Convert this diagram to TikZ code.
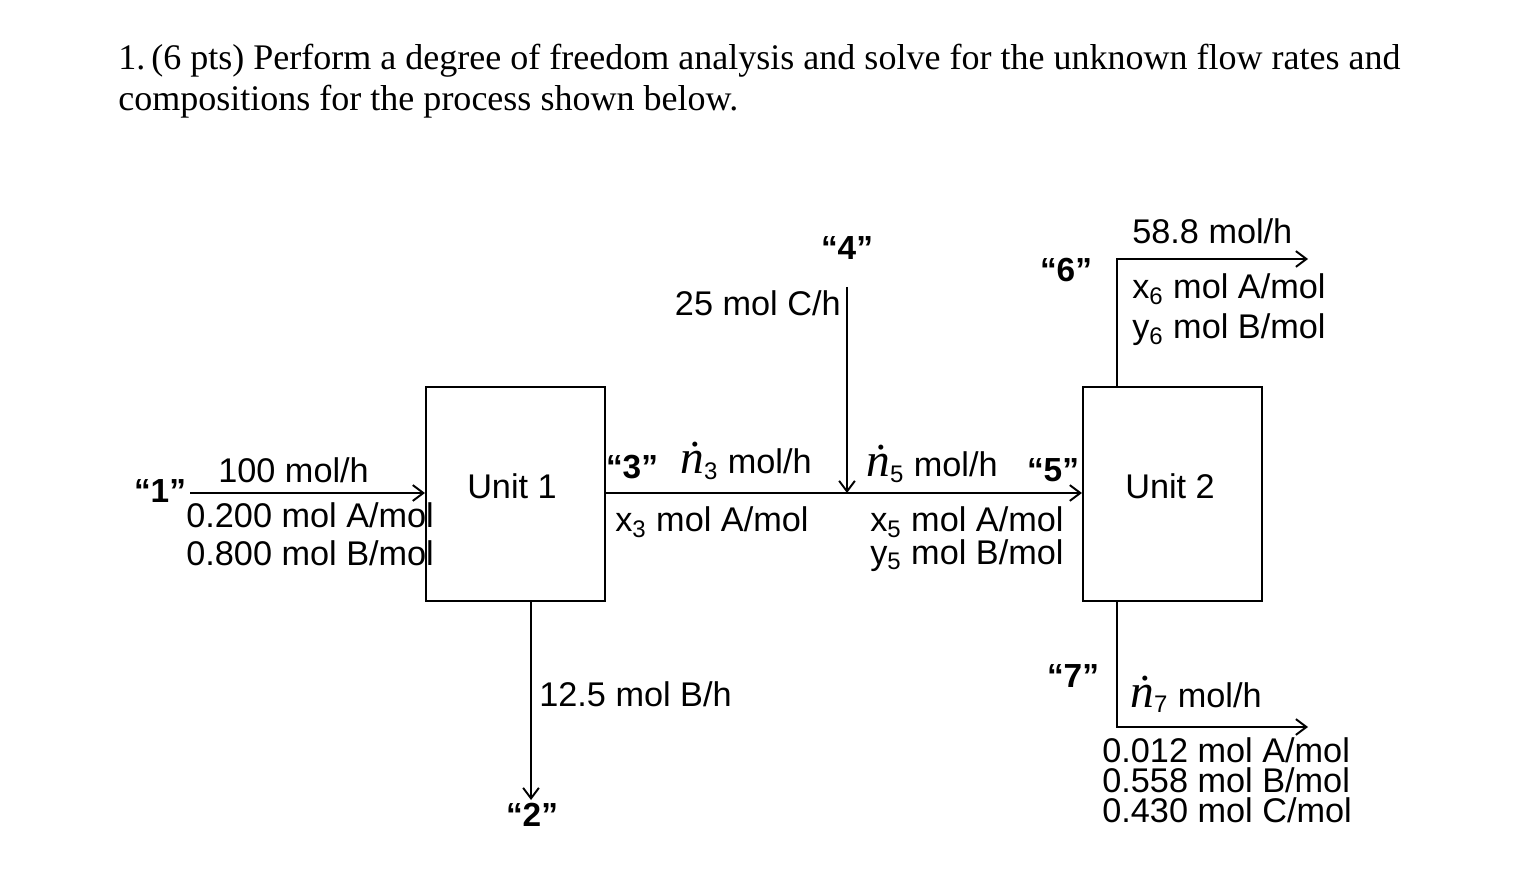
\documentclass[tikz,border=0pt]{standalone}
\usepackage{fontspec}
\usetikzlibrary{arrows.meta}
\setmainfont{Liberation Serif}
\setsansfont{Liberation Sans}
\newcommand{\ndot}{{\rmfamily\itshape\fontsize{27}{27}\selectfont ṅ}}
\begin{document}
\begin{tikzpicture}[x=0.02cm,y=-0.02cm,
  lab/.style={font=\sffamily\fontsize{19.5}{21}\selectfont,inner sep=0pt},
  q/.style={font=\sffamily\bfseries\fontsize{19}{21}\selectfont,inner sep=0pt},
  unit/.style={draw,line width=1.2pt,minimum width=179*0.02cm,minimum height=214*0.02cm},
  flow/.style={line width=1.1pt,-{Straight Barb[length=6pt,width=9pt]}}]
\useasboundingbox (0,0) rectangle (1524,884);
\node[anchor=base west,inner sep=0pt,font=\fontsize{20.5}{24}\selectfont] (t1) at (118,70) {1.\,(6 pts) Perform a degree of freedom analysis and solve for the unknown flow rates and};
\node[anchor=base west,inner sep=0pt,font=\fontsize{20.5}{24}\selectfont] (t2) at (118,111) {compositions for the process shown below.};
\node[unit] (u1) at (515.5,494) {};
\node[lab] (u1t) at (512,486) {Unit 1};
\node[unit] (u2) at (1172.5,494) {};
\node[lab] (u2t) at (1170,486) {Unit 2};
\coordinate (s1) at (190,493);
\draw[flow] (s1) -- (u1.west |- s1);
\coordinate (j) at (847,493);
\draw[flow] (u1.east |- j) -- (u2.west |- j);
\coordinate (s4) at (847,287);
\draw[flow] (s4) -- (j);
\coordinate (s2a) at (531,601);
\coordinate (s2) at (531,800);
\draw[flow] (s2a) -- (s2);
\coordinate (s6a) at (1117,387);
\coordinate (s6b) at (1117,259);
\coordinate (s6) at (1308,259);
\draw[flow] (s6a) -- (s6b) -- (s6);
\coordinate (s7a) at (1117,601);
\coordinate (s7b) at (1117,727);
\coordinate (s7) at (1308,727);
\draw[flow] (s7a) -- (s7b) -- (s7);
% stream 1
\node[q] (q1) at (160,491) {“1”};
\node[lab,anchor=base west] (a1) at (218,483) {100 mol/h};
\node[lab,anchor=base west] (a2) at (186,528) {0.200 mol A/mol};
\node[lab,anchor=base west] (a3) at (186,565) {0.800 mol B/mol};
% stream 2
\node[lab,anchor=base west] (b1) at (539,706) {12.5 mol B/h};
\node[q] (q2) at (532,815) {“2”};
% stream 3
\node[q] (q3) at (632,467) {“3”};
\node[lab,anchor=base west] (c1) at (680,474) {\ndot\textsubscript{3} mol/h};
\node[lab,anchor=base west] (c2) at (615,532) {x\textsubscript{3} mol A/mol};
% stream 4
\node[q] (q4) at (847,248) {“4”};
\node[lab,anchor=base east] (d1) at (841,316) {25 mol C/h};
% stream 5
\node[lab,anchor=base west] (e1) at (866,477) {\ndot\textsubscript{5} mol/h};
\node[q] (q5) at (1053,470) {“5”};
\node[lab,anchor=base west] (e2) at (870,532) {x\textsubscript{5} mol A/mol};
\node[lab,anchor=base west] (e3) at (870,564) {y\textsubscript{5} mol B/mol};
% stream 6
\node[q] (q6) at (1066,270) {“6”};
\node[lab,anchor=base west] (f1) at (1132,244) {58.8 mol/h};
\node[lab,anchor=base west] (f2) at (1132,299) {x\textsubscript{6} mol A/mol};
\node[lab,anchor=base west] (f3) at (1132,339) {y\textsubscript{6} mol B/mol};
% stream 7
\node[q] (q7) at (1073,676) {“7”};
\node[lab,anchor=base west] (g1) at (1130,707) {\ndot\textsubscript{7} mol/h};
\node[lab,anchor=base west] (g2) at (1102,762) {0.012 mol A/mol};
\node[lab,anchor=base west] (g3) at (1102,792) {0.558 mol B/mol};
\node[lab,anchor=base west] (g4) at (1102,822) {0.430 mol C/mol};
\end{tikzpicture}
\end{document}
